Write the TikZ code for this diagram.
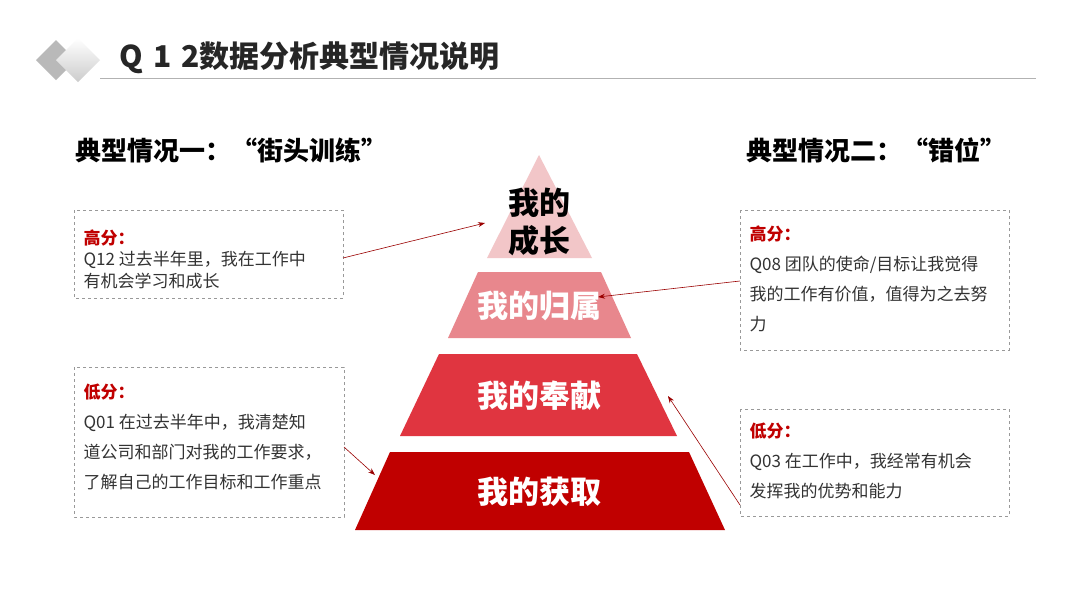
\documentclass[tikz,border=0pt]{standalone}
\usepackage{fontspec}
\setmainfont{Noto Sans CJK SC}
\usetikzlibrary{arrows.meta}
\definecolor{c1}{HTML}{F2C6C8}
\definecolor{c2}{HTML}{E8878D}
\definecolor{c3}{HTML}{E03540}
\definecolor{c4}{HTML}{C00000}
\definecolor{red}{HTML}{C00000}
\begin{document}
\begin{tikzpicture}[x=1pt,y=-1pt,
  box/.style={draw=gray!80,dashed,line width=0.6pt},
  btxt/.style={anchor=north west,align=left,font=\fontsize{17}{30}\selectfont,text=black!80},
  arr/.style={draw=red!80!black,line width=0.6pt,-{Stealth[length=7pt,width=5pt]}},
  lab/.style={text=white,font=\bfseries\fontsize{31}{34}\selectfont}]
\useasboundingbox (0,0) rectangle (1080,608);
\fill[white] (0,0) rectangle (1080,608);
% icon
\fill[gray!55] (56,40) -- (76,60) -- (56,80) -- (36,60) -- cycle;
\shade[top color=white,bottom color=gray!40] (78,38) -- (100,60) -- (78,82) -- (56,60) -- cycle;
\draw[gray!60,line width=0.8pt] (100,78) -- (1036,78);
\node[anchor=west,font=\bfseries\fontsize{30}{32}\selectfont,text=black!85] (title) at (116,58) {Q\,\,1\,\,2数据分析典型情况说明};
\node[anchor=west,font=\bfseries\fontsize{26}{30}\selectfont] (h1) at (72,150) {典型情况一：“街头训练”};
\node[anchor=east,font=\bfseries\fontsize{26}{30}\selectfont] (h2) at (1010,150) {典型情况二：“错位”};
% pyramid
\fill[c1] (539,155) -- (592,258) -- (487,258) -- cycle;
\fill[c2] (478,272) -- (601,272) -- (631,338) -- (448,338) -- cycle;
\fill[c3] (439,354) -- (637,354) -- (677,436) -- (400,436) -- cycle;
\fill[c4] (390,452) -- (689,452) -- (725,530) -- (355,530) -- cycle;
\node[font=\bfseries\fontsize{31}{38}\selectfont,align=center] (p1) at (539,222) {我的\\成长};
\node[lab] (p2) at (539,306) {我的归属};
\node[lab] (p3) at (539,396) {我的奉献};
\node[lab] (p4) at (539,492) {我的获取};
\coordinate (t1) at (485,223);
\coordinate (t2) at (598,297);
\coordinate (t3) at (375,475);
\coordinate (t4) at (668,396);
% boxes
\draw[box] (74,210) rectangle (343,298);
\node[btxt,font=\fontsize{17}{21.5}\selectfont] (b1) at (80,226) {\textcolor{red}{\bfseries 高分：}\\Q12 过去半年里，我在工作中\\有机会学习和成长};
\draw[box] (74,367) rectangle (344,517);
\node[btxt] (b2) at (80,380) {\textcolor{red}{\bfseries 低分：}\\Q01 在过去半年中，我清楚知\\道公司和部门对我的工作要求，\\了解自己的工作目标和工作重点};
\draw[box] (740,210) rectangle (1009,350);
\node[btxt] (b3) at (746,222) {\textcolor{red}{\bfseries 高分：}\\Q08 团队的使命/目标让我觉得\\我的工作有价值，值得为之去努\\力};
\draw[box] (740,409) rectangle (1009,516);
\node[btxt] (b4) at (746,419) {\textcolor{red}{\bfseries 低分：}\\Q03 在工作中，我经常有机会\\发挥我的优势和能力};
\draw[arr] (343,258) -- (t1);
\draw[arr] (740,281) -- (t2);
\draw[arr] (344,447) -- (t3);
\draw[arr] (740,505) -- (t4);
\end{tikzpicture}
\end{document}
